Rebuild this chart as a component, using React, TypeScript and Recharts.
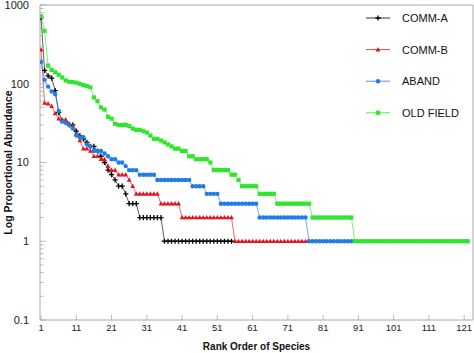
import React from "react";
import { Legend, Line, LineChart, ReferenceArea, XAxis, YAxis } from "recharts";

const FONT = '"Liberation Sans", Arial, Helvetica, sans-serif';
const FRAME = "#a8a8a8";

const X_TICKS = [1, 11, 21, 31, 41, 51, 61, 71, 81, 91, 101, 111, 121];
const Y_MAJOR = [0.1, 1, 10, 100, 1000];
const Y_TICKS = [
  0.1, 0.2, 0.3, 0.4, 0.5, 0.6, 0.7, 0.8, 0.9,
  1, 2, 3, 4, 5, 6, 7, 8, 9,
  10, 20, 30, 40, 50, 60, 70, 80, 90,
  100, 200, 300, 400, 500, 600, 700, 800, 900,
  1000,
];

// abundance by rank (rank 1 first)
const COMM_A = [
  690, 148, 126, 118, 82, 43, 34, 33, 30, 30,
  25, 22, 20, 18, 16, 16, 14, 12, 10, 8,
  7, 6, 5, 5, 4, 3, 3, 3, 2, 2,
  2, 2, 2, 2, 2, 1, 1, 1, 1, 1,
  1, 1, 1, 1, 1, 1, 1, 1, 1, 1,
  1, 1, 1, 1, 1,
];

const COMM_B = [
  270, 57, 56, 52, 42, 36, 35, 35, 31, 29,
  23, 19, 15, 15, 14, 12, 12, 11, 11, 9,
  8, 8, 7, 7, 7, 6, 5, 4, 4, 4,
  4, 4, 4, 4, 3, 3, 3, 3, 3, 3,
  2, 2, 2, 2, 2, 2, 2, 2, 2, 2,
  2, 2, 2, 2, 2, 1, 1, 1, 1, 1,
  1, 1, 1, 1, 1, 1, 1, 1, 1, 1,
  1, 1, 1, 1, 1, 1, 1,
];

const ABAND = [
  190, 112, 92, 80, 74, 45, 33, 32, 30, 27,
  22, 21, 21, 17, 16, 14, 14, 14, 13, 12,
  11, 11, 10, 10, 9, 8, 8, 8, 7, 7,
  7, 7, 7, 6, 6, 6, 6, 6, 6, 6,
  6, 6, 6, 5, 5, 5, 5, 4, 4, 4,
  4, 3, 3, 3, 3, 3, 3, 3, 3, 3,
  3, 3, 2, 2, 2, 2, 2, 2, 2, 2,
  2, 2, 2, 2, 2, 2, 1, 1, 1, 1,
  1, 1, 1, 1, 1, 1, 1, 1, 1,
];

const OLD_FIELD = [
  720, 470, 170, 150, 140, 130, 120, 110, 106, 105,
  103, 100, 96, 94, 90, 67, 60, 50, 47, 38,
  36, 31, 30, 30, 30, 29, 27, 26, 26, 25,
  24, 22, 20, 20, 19, 18, 17, 16, 15, 15,
  14, 14, 12, 12, 11, 11, 11, 11, 10, 8,
  8, 8, 8, 8, 7, 7, 6, 5, 5, 5,
  5, 5, 4, 4, 4, 4, 4, 3, 3, 3,
  3, 3, 3, 3, 3, 3, 3, 2, 2, 2,
  2, 2, 2, 2, 2, 2, 2, 2, 2, 1,
  1, 1, 1, 1, 1, 1, 1, 1, 1, 1,
  1, 1, 1, 1, 1, 1, 1, 1, 1, 1,
  1, 1, 1, 1, 1, 1, 1, 1, 1, 1,
  1, 1,
];

type Kind = "plus" | "triangle" | "circle" | "square";

const SERIES: Array<{ name: string; values: number[]; color: string; kind: Kind }> = [
  { name: "COMM-A", values: COMM_A, color: "#000000", kind: "plus" },
  { name: "COMM-B", values: COMM_B, color: "#e5141c", kind: "triangle" },
  { name: "ABAND", values: ABAND, color: "#1f7be6", kind: "circle" },
  { name: "OLD FIELD", values: OLD_FIELD, color: "#2fe62f", kind: "square" },
];

function toRows(values: number[]) {
  return values.map((value, index) => ({ rank: index + 1, value }));
}

function Marker(props: { kind: Kind; cx: number; cy: number; color: string }) {
  const { kind, cx, cy, color } = props;
  if (kind === "plus") {
    return (
      <path
        d={`M${cx - 2.6},${cy}h5.2M${cx},${cy - 2.6}v5.2`}
        stroke={color}
        strokeWidth={1.3}
        fill="none"
      />
    );
  }
  if (kind === "triangle") {
    return <path d={`M${cx},${cy - 2.6}L${cx + 2.4},${cy + 1.8}L${cx - 2.4},${cy + 1.8}Z`} fill={color} />;
  }
  if (kind === "circle") {
    return <circle cx={cx} cy={cy} r={2.2} fill={color} />;
  }
  return <rect x={cx - 2.1} y={cy - 2.1} width={4.2} height={4.2} fill={color} />;
}

function makeDot(kind: Kind, color: string) {
  return (p: any) => {
    if (p.cx == null || p.cy == null) return <g key={`e-${p.index}`} />;
    return (
      <g key={`${kind}-${p.index}`}>
        <Marker kind={kind} cx={p.cx} cy={p.cy} color={color} />
      </g>
    );
  };
}

function YTick(props: any) {
  const { x, y, payload } = props;
  const major = Y_MAJOR.includes(payload.value);
  return (
    <g>
      <line x1={x} x2={x + (major ? 6 : 3.5)} y1={y} y2={y} stroke={FRAME} strokeWidth={0.8} />
      {major ? (
        <text x={x - 11} y={y} dy="0.35em" textAnchor="end" fontSize={11} fontFamily={FONT} fill="#222">
          {payload.value}
        </text>
      ) : null}
    </g>
  );
}

function XTick(props: any) {
  const { x, y, payload } = props;
  return (
    <g>
      <line x1={x} x2={x} y1={y} y2={y - 5} stroke={FRAME} strokeWidth={0.8} />
      <text x={x} y={y + 4} dy="0.71em" textAnchor="middle" fontSize={9.5} fontFamily={FONT} fill="#222">
        {payload.value}
      </text>
    </g>
  );
}

function LegendBox() {
  return (
    <svg width={114} height={130} style={{ display: "block" }}>
      {SERIES.map((s, i) => {
        const cy = 18 + i * 31.6;
        return (
          <g key={s.name}>
            <line x1={6} x2={30} y1={cy} y2={cy} stroke={s.color} strokeWidth={0.8} />
            <Marker kind={s.kind} cx={18} cy={cy} color={s.color} />
            <text x={42} y={cy} dy="0.36em" fontSize={11} fontFamily={FONT} fill="#111">
              {s.name}
            </text>
          </g>
        );
      })}
    </svg>
  );
}

export default function App() {
  return (
    <div style={{ position: "absolute", left: 0, top: 0, width: 474, height: 353, background: "#fff" }}>
      <LineChart width={474} height={353} margin={{ top: 5, right: 1, bottom: 0, left: 0 }}>
        <ReferenceArea
          x1={0.7}
          x2={123.5}
          y1={0.1}
          y2={1000}
          fill="none"
          stroke={FRAME}
          strokeWidth={1}
        />
        <XAxis
          type="number"
          dataKey="rank"
          domain={[0.7, 123.5]}
          ticks={X_TICKS}
          interval={0}
          height={33}
          axisLine={false}
          tickLine={false}
          tickSize={0}
          tickMargin={0}
          tick={<XTick />}
          allowDataOverflow
          label={{
            value: "Rank Order of Species",
            position: "insideBottom",
            offset: 3,
            style: { fontFamily: FONT, fontSize: 10, fontWeight: 700, fill: "#111" },
          }}
        />
        <YAxis
          type="number"
          scale="log"
          domain={[0.1, 1000]}
          ticks={Y_TICKS}
          interval={0}
          width={40}
          axisLine={false}
          tickLine={false}
          tickSize={0}
          tickMargin={0}
          tick={<YTick />}
          allowDataOverflow
          label={{
            value: "Log Proportional Abundance",
            angle: -90,
            position: "insideLeft",
            offset: 8,
            style: { textAnchor: "middle", fontFamily: FONT, fontSize: 10.5, fontWeight: 700, fill: "#111" },
          }}
        />
        {SERIES.map((s) => (
          <Line
            key={s.name}
            data={toRows(s.values)}
            dataKey="value"
            name={s.name}
            type="linear"
            stroke={s.color}
            strokeWidth={0.8}
            strokeOpacity={0.8}
            dot={makeDot(s.kind, s.color)}
            activeDot={false}
            isAnimationActive={false}
          />
        ))}
        <Legend
          layout="vertical"
          align="center"
          verticalAlign="middle"
          wrapperStyle={{ position: "absolute", top: 0, left: 360, width: 114, height: 130 }}
          content={() => <LegendBox />}
        />
      </LineChart>
    </div>
  );
}
